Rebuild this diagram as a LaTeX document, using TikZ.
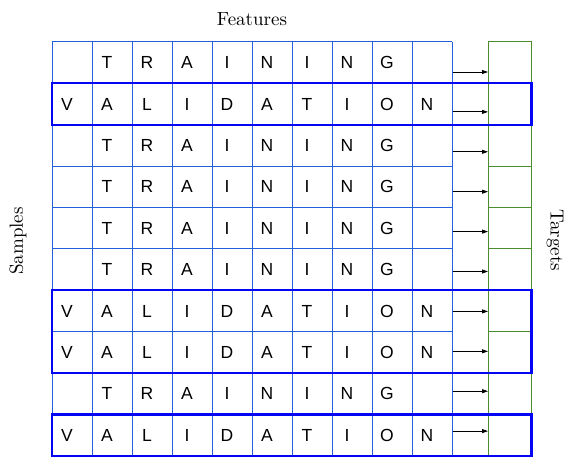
\documentclass[tikz,border=0pt]{standalone}
\usepackage{fontspec}
\newfontfamily\gridfont{Liberation Sans}
\newfontfamily\labelfont{lmroman10-regular.otf}
\usepackage{xcolor}
\usetikzlibrary{arrows, arrows.meta}
\usetikzlibrary{positioning}
\usetikzlibrary{calc}
\definecolor{gridblue}{RGB}{35,95,220}
\definecolor{valblue}{RGB}{5,5,245}
\definecolor{targetgreen}{RGB}{75,140,45}

\begin{document}
\begin{tikzpicture}[x=1pt, y=-1pt, >={Triangle[length=6pt,width=4pt]},
	letter/.style={font=\gridfont\fontsize{17.5}{20}\selectfont, inner sep=0pt},
	axislabel/.style={font=\labelfont\fontsize{19}{21}\selectfont, inner sep=0pt},
	valbox/.style={draw=valblue, line width=2.2pt}]
					\useasboundingbox (0,0) rectangle (571,473);
					% draw grid
					\foreach \i in {0,...,10}
						\draw[gridblue, line width=1pt] (52,42+41.4*\i) -- (452,42+41.4*\i);
					\foreach \j in {0,...,10}
						\draw[gridblue, line width=1pt] (52+40*\j,42) -- (52+40*\j,456);
					% draw target column
					\foreach \i in {0,...,9}
						\draw[targetgreen, line width=1pt] (488,42+41.4*\i) rectangle (531.5,83.4+41.4*\i);
					% add letters
					\foreach \r in {1,3,4,5,6,9}
						\foreach \ch [count=\c from 2] in {T,R,A,I,N,I,N,G}
							\node[letter] (l\r-\c) at (27+40*\c, 21.3+41.4*\r) {\ch};
					\foreach \r in {2,7,8,10}
						\foreach \ch [count=\c from 1] in {V,A,L,I,D,A,T,I,O,N}
							\node[letter] (l\r-\c) at (27+40*\c, 21.3+41.4*\r) {\ch};
					% add arrows
					\foreach \i in {0,...,9}{
						\coordinate (a\i) at (452.5,72+39.9*\i);
						\coordinate (t\i) at (488,72+39.9*\i);
						\draw[->, line width=0.8pt] (a\i) -- (t\i);
					}
					% validation boxes
					\foreach \a/\b in {1/2,6/8,9/10}
						\draw[valbox] (52,42+41.4*\a) rectangle (531.5,42+41.4*\b);
					% labels
					\node[axislabel] (feat) at (252,19) {Features};
					\node[axislabel, rotate=90] (samp) at (18,241) {Samples};
					\node[axislabel, rotate=-90] (targ) at (555,240) {Targets};
\end{tikzpicture}
\end{document}
